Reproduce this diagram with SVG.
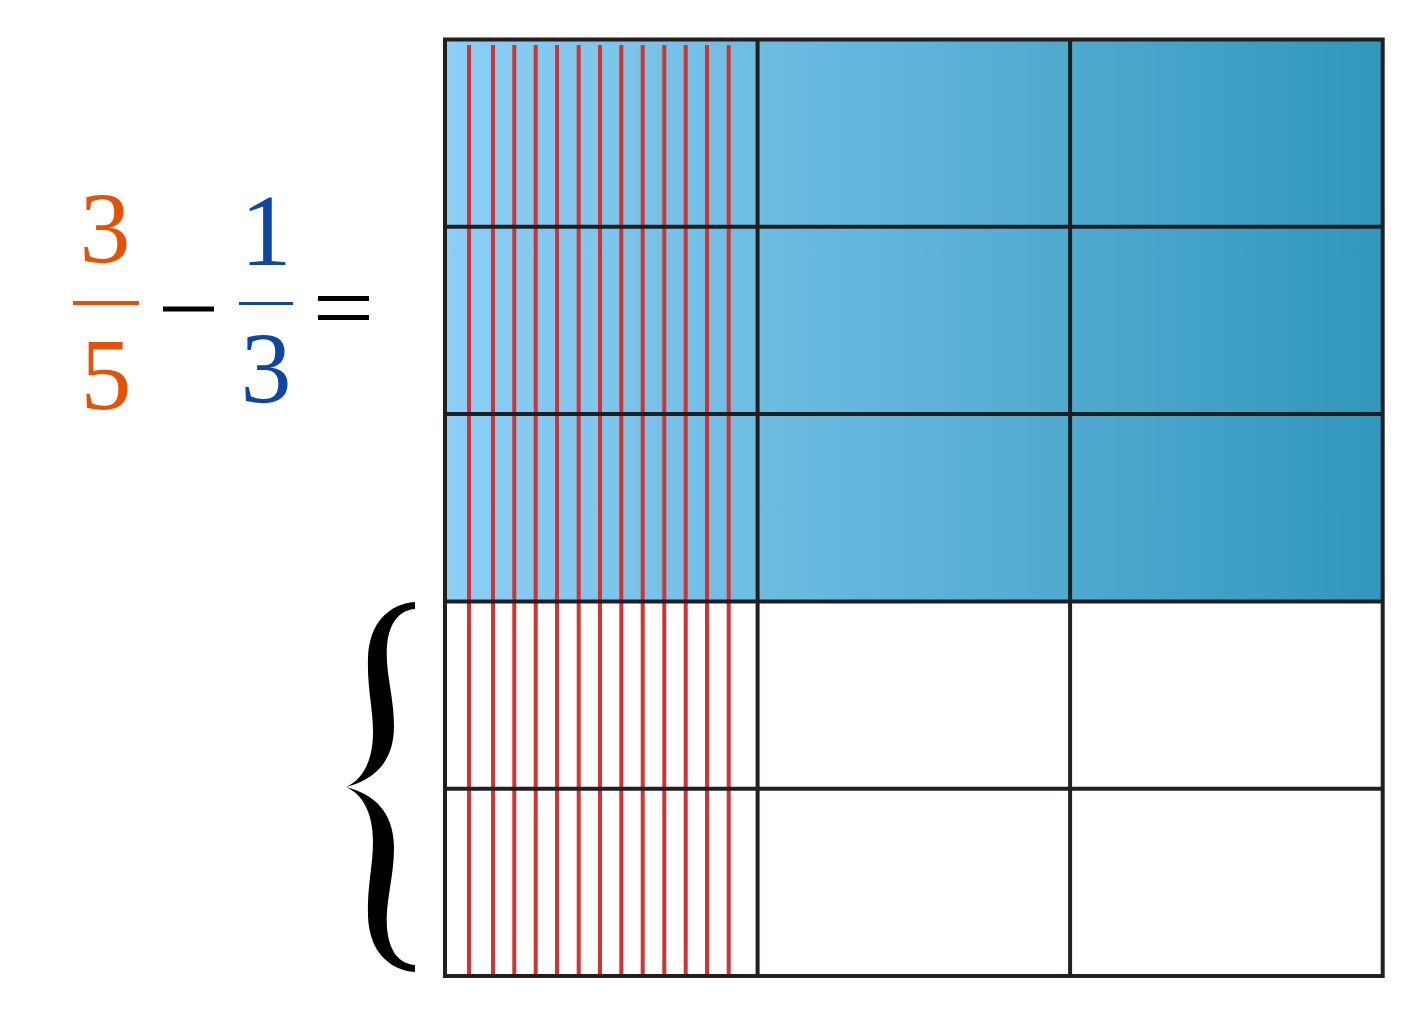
<svg xmlns="http://www.w3.org/2000/svg" width="1421" height="1017" viewBox="0 0 1421 1017">
<defs>
<linearGradient id="blue" gradientUnits="userSpaceOnUse" x1="445" y1="0" x2="1383" y2="0">
<stop offset="0" stop-color="#8ccff6"/>
<stop offset="1" stop-color="#3097bb"/>
</linearGradient>
<style>
.grid{stroke:#231f20;stroke-width:4;fill:none}
.red{stroke:#d33232;stroke-width:4}
.num{font-size:102px;text-anchor:middle}
.or{fill:#e35205}
.bl{fill:#0d47a1}
</style>
</defs>
<rect width="1421" height="1017" fill="#fff"/>
<g id="equation" font-family="'Liberation Serif', 'Times New Roman', serif">
<text class="num or" x="105" y="263">3</text>
<rect x="73" y="301" width="66" height="4" fill="#e35205"/>
<text class="num or" x="106" y="409">5</text>
<rect x="163" y="306.5" width="51" height="5" fill="#000"/>
<text class="num bl" x="266" y="265">1</text>
<rect x="239" y="302" width="54" height="3" fill="#0d47a1"/>
<text class="num bl" x="266" y="403">3</text>
<rect x="318" y="296" width="51" height="5" fill="#000"/>
<rect x="318" y="315" width="51" height="5" fill="#000"/>
</g>
<g id="shaded">
<rect x="445" y="39.5" width="937.7" height="562" fill="url(#blue)"/>
</g>
<g id="red-lines" class="red">
<line x1="469" y1="45" x2="469" y2="974"/>
<line x1="493" y1="45" x2="493" y2="974"/>
<line x1="514.3" y1="45" x2="514.3" y2="974"/>
<line x1="535.7" y1="45" x2="535.7" y2="974"/>
<line x1="557" y1="45" x2="557" y2="974"/>
<line x1="578.7" y1="45" x2="578.7" y2="974"/>
<line x1="600" y1="45" x2="600" y2="974"/>
<line x1="621.3" y1="45" x2="621.3" y2="974"/>
<line x1="642.7" y1="45" x2="642.7" y2="974"/>
<line x1="664.3" y1="45" x2="664.3" y2="974"/>
<line x1="685.7" y1="45" x2="685.7" y2="974"/>
<line x1="707" y1="45" x2="707" y2="974"/>
<line x1="728.7" y1="45" x2="728.7" y2="974"/>
</g>
<g id="grid" class="grid">
<rect x="445" y="39.5" width="937.7" height="936.5"/>
<line x1="757.6" y1="39.5" x2="757.6" y2="976"/>
<line x1="1070.1" y1="39.5" x2="1070.1" y2="976"/>
<line x1="445" y1="226.8" x2="1382.7" y2="226.8"/>
<line x1="445" y1="414.1" x2="1382.7" y2="414.1"/>
<line x1="445" y1="601.4" x2="1382.7" y2="601.4"/>
<line x1="445" y1="788.7" x2="1382.7" y2="788.7"/>
</g>
<g id="brace" fill="#000">
<path id="brace-top" d="M415,602 C388,604 369,624 368,658 C367,688 373,708 373,732 C373,762 362,780 346,787 C374,780 394,762 394,726 C394,696 385,672 387,646 C389,622 400,610 415,609 Z"/>
<use href="#brace-top" transform="translate(0,1574) scale(1,-1)"/>
</g>
</svg>
